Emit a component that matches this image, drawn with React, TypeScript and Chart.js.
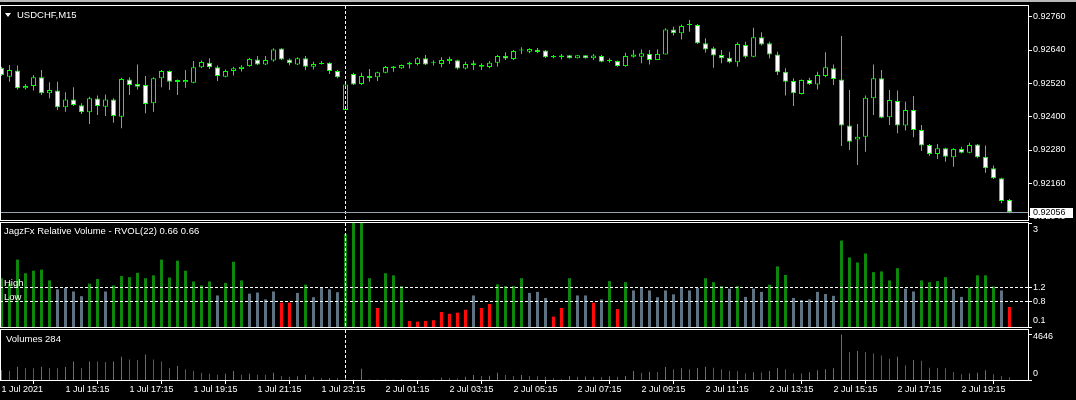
import React, { useEffect, useRef } from "react";
import { Chart, registerables } from "chart.js";

Chart.register(...registerables);

// ---------------- data (USDCHF M15, 1 Jul 13:15 -> 2 Jul 20:45) ----------------
const opens = [
  0.92576, 0.92544, 0.92566, 0.92502, 0.9251, 0.92542, 0.92484, 0.92494, 0.92434, 0.92462,
  0.92441, 0.92416, 0.92465, 0.92436, 0.92462, 0.924, 0.92534, 0.92518, 0.92514, 0.92448,
  0.92538, 0.92564, 0.92532, 0.92524, 0.92522, 0.92578, 0.92594, 0.92578, 0.92544, 0.92564,
  0.92572, 0.92582, 0.92606, 0.92588, 0.92602, 0.92645, 0.92606, 0.92588, 0.9261, 0.9258,
  0.9259, 0.92594, 0.92564, 0.92424, 0.92554, 0.92518, 0.92546, 0.92542, 0.92558, 0.92581,
  0.92574, 0.92588, 0.9259, 0.9261, 0.92594, 0.9259, 0.926, 0.92603, 0.92573, 0.92592,
  0.92586, 0.92579, 0.92594, 0.92618, 0.92608, 0.92638, 0.92634, 0.92641, 0.92638, 0.92614,
  0.9262, 0.92621, 0.9261, 0.92621, 0.9261, 0.92618, 0.926, 0.926, 0.92582, 0.92616,
  0.92616, 0.92626, 0.92604, 0.92624, 0.92714, 0.927, 0.9273, 0.9273, 0.92664, 0.92646,
  0.92622, 0.92612, 0.92596, 0.92658, 0.92616, 0.92686, 0.92664, 0.92624, 0.92562, 0.92528,
  0.92482, 0.92532, 0.92516, 0.92546, 0.92574, 0.92534, 0.92368, 0.92318, 0.92328, 0.92466,
  0.92538, 0.92398, 0.92456, 0.92368, 0.92424, 0.92352, 0.92298, 0.92266, 0.92286, 0.92254,
  0.92284, 0.9227, 0.923, 0.92256, 0.92214, 0.92178, 0.921,
];
const highs = [
  0.9258, 0.92586, 0.92584, 0.92518, 0.9255, 0.92568, 0.92524, 0.92526, 0.92488, 0.92506,
  0.92448, 0.92472, 0.92476, 0.9248, 0.92466, 0.9254, 0.92542, 0.92588, 0.92546, 0.92542,
  0.92568, 0.92566, 0.92534, 0.92568, 0.926, 0.92602, 0.9261, 0.92584, 0.9257, 0.9258,
  0.92585, 0.92611, 0.92618, 0.92618, 0.92646, 0.92646, 0.92609, 0.92614, 0.92618, 0.92598,
  0.926, 0.92596, 0.92568, 0.9252, 0.92558, 0.92558, 0.92572, 0.92562, 0.92582, 0.92582,
  0.92588, 0.92598, 0.92614, 0.92622, 0.92603, 0.92614, 0.92616, 0.92605, 0.92598, 0.92602,
  0.92592, 0.926, 0.92622, 0.92632, 0.9264, 0.9265, 0.92646, 0.92647, 0.9264, 0.92622,
  0.92626, 0.92622, 0.92622, 0.92622, 0.92626, 0.92622, 0.9261, 0.92602, 0.9263, 0.9264,
  0.92642, 0.9264, 0.92642, 0.92718, 0.92724, 0.92732, 0.92748, 0.92734, 0.92682, 0.92652,
  0.9264, 0.92634, 0.92668, 0.9267, 0.9272, 0.92704, 0.9267, 0.92634, 0.92574, 0.92538,
  0.92534, 0.9254, 0.92562, 0.92632, 0.92588, 0.9269, 0.92496, 0.92374, 0.92476, 0.92588,
  0.92568, 0.92496, 0.92494, 0.92454, 0.92474, 0.9237, 0.92302, 0.92302, 0.92288, 0.92286,
  0.92292, 0.92306, 0.92302, 0.92296, 0.92224, 0.9218, 0.92104,
];
const lows = [
  0.92546, 0.92526, 0.92498, 0.92498, 0.92494, 0.92478, 0.92466, 0.92424, 0.92418, 0.92438,
  0.9241, 0.92374, 0.92406, 0.92402, 0.92378, 0.92358, 0.92478, 0.92498, 0.92412, 0.92418,
  0.92506, 0.92496, 0.92478, 0.92504, 0.9252, 0.92574, 0.92572, 0.92528, 0.92542, 0.92548,
  0.92563, 0.9258, 0.92586, 0.92586, 0.92598, 0.92604, 0.92585, 0.92586, 0.92568, 0.9257,
  0.92588, 0.92554, 0.92538, 0.92424, 0.92514, 0.92514, 0.92526, 0.92528, 0.92556, 0.92562,
  0.92572, 0.92573, 0.92584, 0.92586, 0.92584, 0.92578, 0.9259, 0.9257, 0.9257, 0.92568,
  0.92568, 0.92574, 0.9258, 0.92604, 0.92604, 0.92626, 0.92628, 0.92628, 0.92611, 0.9261,
  0.92606, 0.92609, 0.92609, 0.92609, 0.92604, 0.92596, 0.92594, 0.9258, 0.9258, 0.92612,
  0.92592, 0.92588, 0.92604, 0.92624, 0.92692, 0.92678, 0.92706, 0.92662, 0.9263, 0.92576,
  0.92592, 0.92592, 0.9258, 0.9261, 0.92614, 0.92656, 0.9261, 0.9255, 0.92476, 0.92438,
  0.9248, 0.92514, 0.92498, 0.92542, 0.92514, 0.92294, 0.9228, 0.92226, 0.92274, 0.92406,
  0.92394, 0.9237, 0.9234, 0.9235, 0.92326, 0.92276, 0.92258, 0.92248, 0.92238, 0.9222,
  0.92268, 0.92268, 0.9225, 0.92198, 0.92176, 0.92088, 0.92052,
];
const closes = [
  0.9255, 0.92568, 0.92502, 0.9251, 0.92542, 0.92484, 0.92496, 0.92434, 0.92462, 0.92442,
  0.92416, 0.92466, 0.92438, 0.92462, 0.92402, 0.92536, 0.92514, 0.92508, 0.92446, 0.92538,
  0.92564, 0.92526, 0.92525, 0.92532, 0.92578, 0.92597, 0.92578, 0.92546, 0.92564, 0.92574,
  0.9258, 0.92608, 0.92588, 0.92604, 0.92642, 0.92606, 0.92592, 0.9261, 0.9258, 0.9259,
  0.9259, 0.92564, 0.92542, 0.92516, 0.92516, 0.92546, 0.92538, 0.9256, 0.92579, 0.92574,
  0.92586, 0.92594, 0.9261, 0.92588, 0.92594, 0.92604, 0.92608, 0.92573, 0.9259, 0.92585,
  0.9258, 0.92594, 0.92618, 0.92609, 0.92636, 0.92638, 0.92644, 0.92633, 0.92614, 0.92618,
  0.92614, 0.9261, 0.92621, 0.9261, 0.9262, 0.92598, 0.926, 0.92582, 0.92618, 0.92624,
  0.92628, 0.92604, 0.92626, 0.92714, 0.927, 0.92726, 0.9273, 0.92664, 0.92642, 0.9262,
  0.9261, 0.92596, 0.92662, 0.92616, 0.92686, 0.9266, 0.92624, 0.9256, 0.92526, 0.92484,
  0.92532, 0.92518, 0.9255, 0.92578, 0.92536, 0.92368, 0.9231, 0.92328, 0.92468, 0.92538,
  0.92396, 0.9246, 0.92368, 0.92424, 0.92352, 0.92296, 0.92266, 0.92286, 0.92256, 0.92284,
  0.9227, 0.92298, 0.92254, 0.92214, 0.92178, 0.92096, 0.92056,
];
const rvol = [
  1.46, 1.31, 1.98, 1.6, 1.67, 1.7, 1.4, 1.15, 1.19, 1.09,
  0.96, 1.31, 1.44, 1.09, 1.26, 1.52, 1.49, 1.61, 1.46, 1.54,
  1.98, 1.48, 1.95, 1.67, 1.37, 1.26, 1.37, 0.98, 1.33, 1.92,
  1.4, 1.03, 1.06, 0.87, 1.09, 0.78, 0.78, 1.05, 1.28, 0.93,
  1.19, 1.15, 1.07, 2.69, 3.4, 3.4, 1.46, 0.63, 1.6, 1.54,
  1.24, 0.27, 0.25, 0.27, 0.29, 0.52, 0.47, 0.5, 0.58, 0.98,
  0.63, 0.74, 1.29, 1.24, 1.24, 1.46, 1.05, 1.08, 0.91, 0.39,
  0.63, 1.46, 0.98, 0.98, 0.78, 0.87, 1.38, 0.6, 1.35, 1.12,
  1.19, 1.12, 0.93, 1.12, 1.01, 1.19, 1.12, 1.19, 1.46, 1.35,
  1.24, 1.17, 1.24, 0.94, 1.17, 1.08, 1.28, 1.79, 1.55, 0.91,
  0.85, 0.87, 1.08, 1.02, 0.97, 2.51, 2.04, 1.9, 2.15, 1.63,
  1.65, 1.4, 1.74, 1.17, 1.09, 1.4, 1.35, 1.38, 1.49, 1.15,
  0.94, 1.21, 1.54, 1.54, 1.23, 1.12, 0.66,
];
const volumes = [
  1017, 915, 1356, 1220, 1200, 1356, 1220, 1187, 1322, 1898,
  1220, 1898, 1880, 1830, 1898, 2373, 2102, 2034, 2610, 2102,
  1898, 1220, 1424, 1085, 915, 746, 644, 542, 644, 915,
  542, 644, 542, 530, 746, 407, 339, 380, 542, 339,
  170, 200, 170, 250, 60, 1150, 60, 40, 70, 60,
  90, 30, 25, 30, 40, 220, 180, 150, 339, 508,
  407, 430, 746, 508, 407, 508, 407, 390, 339, 170,
  90, 407, 339, 350, 330, 300, 373, 339, 407, 915,
  746, 848, 814, 1322, 1085, 1186, 1085, 1220, 1356, 1254,
  1085, 915, 900, 678, 780, 760, 915, 1220, 1085, 678,
  660, 780, 983, 1085, 1186, 4646, 2848, 2949, 2848, 2712,
  2509, 2170, 2373, 1492, 2034, 1966, 1254, 1220, 1200, 814,
  576, 678, 746, 983, 576, 407, 284,
];
const tickIndex = [0, 8, 16, 24, 32, 40, 48, 56, 64, 72, 80, 88, 96, 104, 112, 120];
const tickLabels = [
  "1 Jul 2021", "1 Jul 15:15", "1 Jul 17:15", "1 Jul 19:15", "1 Jul 21:15", "1 Jul 23:15",
  "2 Jul 01:15", "2 Jul 03:15", "2 Jul 05:15", "2 Jul 07:15", "2 Jul 09:15", "2 Jul 11:15",
  "2 Jul 13:15", "2 Jul 15:15", "2 Jul 17:15", "2 Jul 19:15",
];
const priceTicks = [0.9276, 0.9264, 0.9252, 0.924, 0.9228, 0.9216, 0.9204];
const rvolTicks = [3, 1.2, 0.8, 0.1];
const rvolLevels = [1.2, 0.8];
const rvolLevelNames = ["High", "Low"];
const volTicks = [4646, 0];
const daySeparatorIndex = 43;
const symbolTitle = "USDCHF,M15";
const rvolTitle = "JagzFx Relative Volume - RVOL(22) 0.66 0.66";
const volTitle = "Volumes 284";

// ---------------- layout constants ----------------
const W = 1076;
const AXIS_W = 48;
const X_MIN = -0.1875;
const X_MAX = 128.3125;
const P_MIN = 0.92028;
const P_MAX = 0.927984;
const FONT = '"Liberation Sans", Arial, sans-serif';
const TITLE_FONT = `9.5px ${FONT}`;
const AXIS_FONT = `9px ${FONT}`;

Chart.defaults.font.family = FONT;
Chart.defaults.font.size = 9;
Chart.defaults.color = "#ffffff";

const idx = closes.map((_, i) => i);

function drawFrame(chart: any) {
  const { ctx, chartArea } = chart;
  ctx.save();
  ctx.strokeStyle = "#ffffff";
  ctx.lineWidth = 1;
  ctx.setLineDash([]);
  ctx.strokeRect(0.5, chartArea.top - 0.5, chartArea.right, chartArea.bottom - chartArea.top + 1);
  ctx.restore();
}

function drawSeparator(chart: any) {
  const { ctx, chartArea } = chart;
  const x = Math.round(chart.scales.x.getPixelForValue(daySeparatorIndex) - 0.5) + 0.5;
  ctx.save();
  ctx.strokeStyle = "#ffffff";
  ctx.lineWidth = 1;
  ctx.setLineDash([3, 2]);
  ctx.beginPath();
  ctx.moveTo(x, chartArea.top);
  ctx.lineTo(x, chartArea.bottom);
  ctx.stroke();
  ctx.restore();
}

// right-hand axis labels with small tick marks; edge labels kept inside the pane
function drawRightLabels(chart: any, values: number[], fmt: (v: number) => string, clamp: boolean) {
  const { ctx, chartArea } = chart;
  const s = chart.scales.y;
  ctx.save();
  ctx.font = AXIS_FONT;
  ctx.fillStyle = "#ffffff";
  ctx.strokeStyle = "#ffffff";
  ctx.lineWidth = 1;
  ctx.textAlign = "left";
  ctx.textBaseline = "middle";
  values.forEach((v) => {
    const py = s.getPixelForValue(v);
    let y = py;
    if (clamp) y = Math.max(chartArea.top + 6.5, Math.min(chartArea.bottom - 6, y));
    const ty = Math.round(Math.max(chartArea.top, Math.min(chartArea.bottom, py)) - 0.5) + 0.5;
    ctx.beginPath();
    ctx.moveTo(chartArea.right + 1, ty);
    ctx.lineTo(chartArea.right + 4, ty);
    ctx.stroke();
    ctx.fillText(fmt(v), chartArea.right + 5, y);
  });
  ctx.restore();
}

function bg(chart: any) {
  const { ctx, width, height } = chart;
  ctx.save();
  ctx.fillStyle = "#000000";
  ctx.fillRect(0, 0, width, height);
  ctx.restore();
}

function mainConfig(): any {
  const plugin = {
    id: "mainDecor",
    beforeDraw(chart: any) {
      bg(chart);
      chart.ctx.save();
      chart.ctx.fillStyle = "#b8b8b8";
      chart.ctx.fillRect(0, 0, chart.width, 2);
      chart.ctx.restore();
    },
    afterDatasetsDraw(chart: any) {
      const { ctx, chartArea } = chart;
      drawSeparator(chart);
      const y = Math.round(chart.scales.y.getPixelForValue(closes[closes.length - 1]) - 0.5) + 0.5;
      ctx.save();
      ctx.strokeStyle = "#9aa3ad";
      ctx.lineWidth = 1;
      ctx.beginPath();
      ctx.moveTo(chartArea.left, y);
      ctx.lineTo(chartArea.right, y);
      ctx.stroke();
      ctx.restore();
    },
    afterDraw(chart: any) {
      const { ctx, chartArea } = chart;
      drawFrame(chart);
      drawRightLabels(chart, priceTicks, (v) => v.toFixed(5), false);
      ctx.save();
      // title with triangle
      ctx.fillStyle = "#ffffff";
      ctx.beginPath();
      ctx.moveTo(5, 13);
      ctx.lineTo(11, 13);
      ctx.lineTo(8, 17);
      ctx.closePath();
      ctx.fill();
      ctx.font = TITLE_FONT;
      ctx.textAlign = "left";
      ctx.textBaseline = "middle";
      ctx.fillText(symbolTitle, 17, 15);
      // current price box
      const last = closes[closes.length - 1];
      const y = chart.scales.y.getPixelForValue(last);
      const top = Math.round(y - 4.5);
      ctx.fillStyle = "#ffffff";
      ctx.fillRect(chartArea.right + 2, top, 43, 10);
      ctx.fillStyle = "#000000";
      ctx.font = AXIS_FONT;
      ctx.fillText(last.toFixed(5), chartArea.right + 5, top + 5);
      ctx.restore();
    },
  };
  return {
    type: "bar",
    data: {
      datasets: [
        {
          label: "body",
          data: idx.map((i) => ({ x: i, y: [opens[i], closes[i]] })),
          backgroundColor: idx.map((i) => (closes[i] >= opens[i] ? "#000000" : "#ffffff")),
          borderColor: "#00ff00",
          borderWidth: 1,
          borderSkipped: false,
          barThickness: 5,
          maxBarThickness: 5,
          minBarLength: 1,
          grouped: false,
          inflateAmount: 0,
          order: 0,
        },
        {
          label: "wick",
          data: idx.map((i) => ({ x: i, y: [lows[i], highs[i]] })),
          backgroundColor: "#00ff00",
          borderWidth: 0,
          barThickness: 1,
          maxBarThickness: 1,
          grouped: false,
          inflateAmount: 0,
          order: 1,
        },
      ],
    },
    options: {
      responsive: false,
      animation: false,
      events: [],
      layout: { padding: { top: 6, bottom: 1, left: 0, right: 0 } },
      plugins: { legend: { display: false }, tooltip: { enabled: false } },
      scales: {
        x: { type: "linear", display: false, min: X_MIN, max: X_MAX, offset: false },
        y: {
          position: "right",
          min: P_MIN,
          max: P_MAX,
          afterFit: (s: any) => {
            s.width = AXIS_W;
            s.paddingTop = 0;
            s.paddingBottom = 0;
          },
          ticks: { display: false },
          grid: { display: false },
          border: { display: false },
        },
      },
    },
    plugins: [plugin],
  };
}

function rvolConfig(): any {
  const plugin = {
    id: "rvolDecor",
    beforeDraw: bg,
    afterDatasetsDraw(chart: any) {
      const { ctx, chartArea } = chart;
      const s = chart.scales.y;
      ctx.save();
      ctx.strokeStyle = "#ffffff";
      ctx.lineWidth = 1;
      ctx.setLineDash([3, 2]);
      ctx.font = TITLE_FONT;
      ctx.fillStyle = "#ffffff";
      ctx.textAlign = "left";
      ctx.textBaseline = "alphabetic";
      rvolLevels.forEach((lv, k) => {
        const y = Math.round(s.getPixelForValue(lv) - 0.5) + 0.5;
        ctx.beginPath();
        ctx.moveTo(chartArea.left, y);
        ctx.lineTo(chartArea.right, y);
        ctx.stroke();
        ctx.fillText(rvolLevelNames[k], 4, y - 2);
      });
      ctx.restore();
      drawSeparator(chart);
    },
    afterDraw(chart: any) {
      const { ctx } = chart;
      drawFrame(chart);
      ctx.save();
      ctx.font = TITLE_FONT;
      ctx.fillStyle = "#ffffff";
      ctx.textAlign = "left";
      ctx.textBaseline = "middle";
      ctx.fillText(rvolTitle, 4, 10);
      ctx.restore();
      drawRightLabels(chart, rvolTicks, (v) => String(v), true);
    },
  };
  return {
    type: "bar",
    data: {
      datasets: [
        {
          data: idx.map((i) => ({ x: i, y: rvol[i] })),
          backgroundColor: idx.map((i) =>
            rvol[i] > rvolLevels[0] ? "#0d880d" : rvol[i] < rvolLevels[1] ? "#ff0a0a" : "#5f7282"
          ),
          barThickness: 3,
          maxBarThickness: 3,
          grouped: false,
          inflateAmount: 0,
        },
      ],
    },
    options: {
      responsive: false,
      animation: false,
      events: [],
      layout: { padding: { top: 2, bottom: 2, left: 0, right: 0 } },
      plugins: { legend: { display: false }, tooltip: { enabled: false } },
      scales: {
        x: { type: "linear", display: false, min: X_MIN, max: X_MAX, offset: false },
        y: {
          position: "right",
          min: 0.1,
          max: 3,
          afterFit: (s: any) => {
            s.width = AXIS_W;
            s.paddingTop = 0;
            s.paddingBottom = 0;
          },
          ticks: { display: false },
          grid: { display: false },
          border: { display: false },
        },
      },
    },
    plugins: [plugin],
  };
}

function volConfig(): any {
  const plugin = {
    id: "volDecor",
    beforeDraw: bg,
    afterDatasetsDraw(chart: any) {
      drawSeparator(chart);
    },
    afterDraw(chart: any) {
      const { ctx } = chart;
      drawFrame(chart);
      ctx.save();
      ctx.font = TITLE_FONT;
      ctx.fillStyle = "#ffffff";
      ctx.textAlign = "left";
      ctx.textBaseline = "middle";
      ctx.fillText(volTitle, 6, 11);
      ctx.restore();
      drawRightLabels(chart, volTicks, (v) => String(v), true);
    },
  };
  return {
    type: "bar",
    data: {
      datasets: [
        {
          data: idx.map((i) => ({ x: i, y: volumes[i] })),
          backgroundColor: idx.map((i) =>
            i > 0 && volumes[i] > volumes[i - 1] ? "#22a022" : "#e81c1c"
          ),
          barThickness: 1,
          maxBarThickness: 1,
          grouped: false,
          inflateAmount: 0,
        },
      ],
    },
    options: {
      responsive: false,
      animation: false,
      events: [],
      layout: { padding: { top: 2, bottom: 0, left: 0, right: 0 } },
      plugins: { legend: { display: false }, tooltip: { enabled: false } },
      scales: {
        x: {
          type: "linear",
          position: "bottom",
          min: X_MIN,
          max: X_MAX,
          offset: false,
          afterBuildTicks: (s: any) => {
            s.ticks = tickIndex.map((v) => ({ value: v }));
          },
          afterFit: (s: any) => {
            s.height = 20;
            s.paddingLeft = 0;
            s.paddingRight = 0;
          },
          ticks: {
            autoSkip: false,
            maxRotation: 0,
            minRotation: 0,
            align: "start",
            padding: 0,
            color: "#ffffff",
            font: { size: 9 },
            callback: (_v: any, i: number) => tickLabels[i],
          },
          grid: { drawOnChartArea: false, drawTicks: true, tickLength: 4, color: "#ffffff" },
          border: { display: false },
        },
        y: {
          position: "right",
          min: 0,
          max: 5100,
          afterFit: (s: any) => {
            s.width = AXIS_W;
            s.paddingTop = 0;
            s.paddingBottom = 0;
          },
          ticks: { display: false },
          grid: { display: false },
          border: { display: false },
        },
      },
    },
    plugins: [plugin],
  };
}

function Pane({ top, height, makeConfig }: { top: number; height: number; makeConfig: () => any }) {
  const ref = useRef<HTMLCanvasElement>(null);
  useEffect(() => {
    const chart = new Chart(ref.current as HTMLCanvasElement, makeConfig());
    return () => chart.destroy();
  }, []);
  return (
    <div style={{ position: "absolute", left: 0, top, width: W, height }}>
      <canvas ref={ref} width={W} height={height} style={{ display: "block", width: W, height }} />
    </div>
  );
}

export default function App() {
  return (
    <div
      style={{
        position: "fixed",
        left: 0,
        top: 0,
        width: W,
        height: 400,
        background: "#000000",
        overflow: "hidden",
      }}
    >
      <Pane top={0} height={221} makeConfig={mainConfig} />
      <Pane top={221} height={108} makeConfig={rvolConfig} />
      <Pane top={328} height={72} makeConfig={volConfig} />
    </div>
  );
}
